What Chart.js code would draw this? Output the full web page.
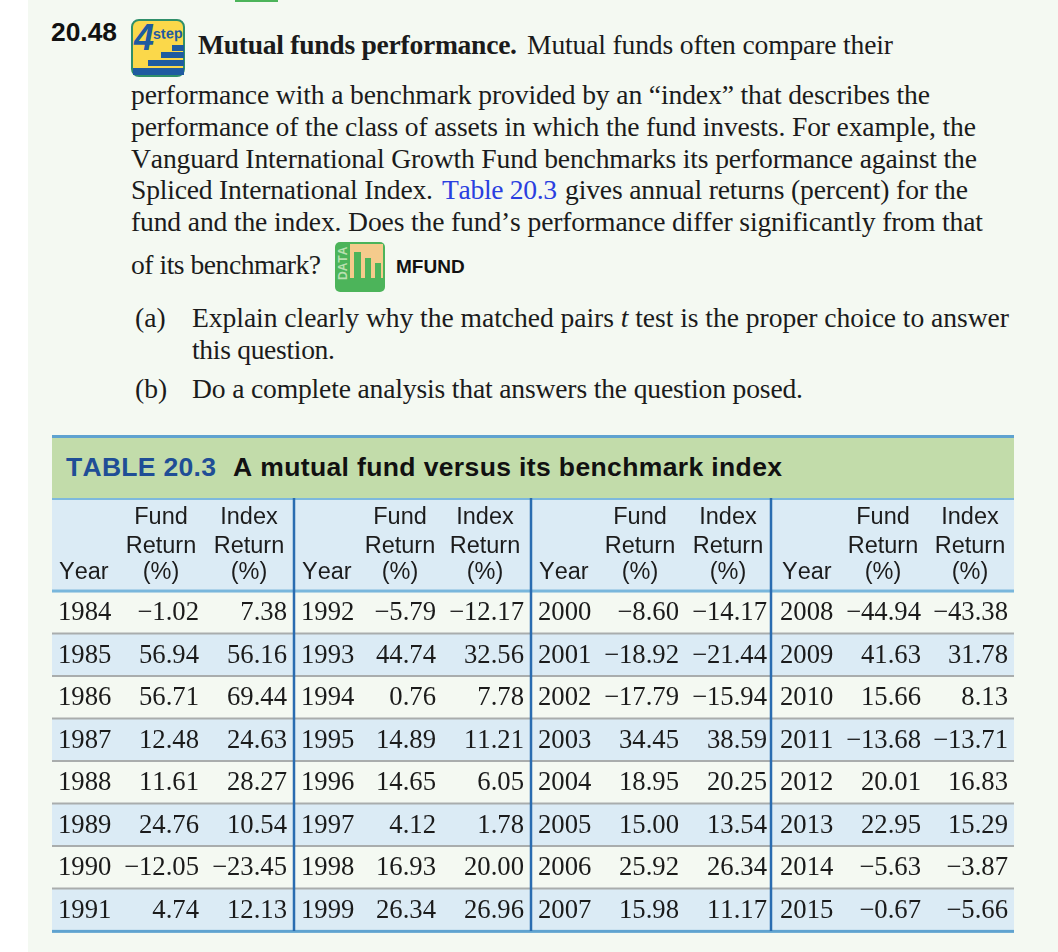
<!DOCTYPE html>
<html>
<head>
<meta charset="utf-8">
<title>Table 20.3</title>
<script src="https://cdn.jsdelivr.net/npm/chart.js@4"></script>
<style>
    html, body { margin: 0; padding: 0; background: #fff; }
    #page { position: relative; width: 1058px; height: 952px; overflow: hidden; background: #fff; }
    #sheet { position: absolute; left: 28px; top: 0; width: 1030px; height: 952px; background: #f4f9f2; }
    #text-layer { position: absolute; left: 0; top: 0; font-kerning: none; }
    #text-layer .serif { font-family: "Liberation Serif", serif; font-size: 27.6px; fill: #1b1b1b; }
    #text-layer .sans { font-family: "Liberation Sans", sans-serif; font-weight: bold; fill: #111; }
    #table-chart { position: absolute; left: 52px; top: 498px; }
</style>
</head>
<body>
<div id="page">
    <div id="sheet"></div>
    <svg id="text-layer" width="1058" height="952">
        <rect x="235" y="0" width="43" height="2" fill="#4cb45a"/>

        <text class="sans" x="51" y="41" font-size="26.4">20.48</text>
        <!-- 4step icon -->
        <rect x="132" y="20" width="52" height="56" rx="7" fill="#fbd84a" stroke="#2f8f6a" stroke-width="2"/>
        <text x="134" y="50" font-family="Liberation Sans" font-weight="bold" font-style="italic" font-size="36" fill="#1f5ba0">4</text>
        <text x="153" y="39" font-family="Liberation Sans" font-weight="bold" font-size="14.5" fill="#1f5ba0" transform="rotate(-2 153 39)">step</text>
        <rect x="172" y="45" width="12" height="6" fill="#1f5ba0"/>
        <rect x="161" y="52" width="23" height="6" fill="#1f5ba0"/>
        <rect x="148" y="60" width="36" height="6" fill="#1f5ba0"/>
        <rect x="133" y="68" width="51" height="7" fill="#1f5ba0"/>

        <text class="serif" x="198" y="54" font-weight="bold" textLength="319">Mutual funds performance.</text>
        <text class="serif" x="527" y="54" textLength="366">Mutual funds often compare their</text>
        <text class="serif" x="131" y="104" textLength="799">performance with a benchmark provided by an “index” that describes the</text>
        <text class="serif" x="131" y="136" textLength="845">performance of the class of assets in which the fund invests. For example, the</text>
        <text class="serif" x="131" y="168" textLength="846">Vanguard International Growth Fund benchmarks its performance against the</text>
        <text class="serif" x="131" y="199" textLength="302">Spliced International Index.</text>
        <text class="serif" x="442" y="199" textLength="115" style="fill:#2a3fe0">Table 20.3</text>
        <text class="serif" x="565" y="199" textLength="403">gives annual returns (percent) for the</text>
        <text class="serif" x="131" y="231" textLength="852">fund and the index. Does the fund’s performance differ significantly from that</text>
        <text class="serif" x="131" y="274" textLength="190">of its benchmark?</text>
        <!-- data icon -->
        <rect x="335" y="242" width="50" height="50" rx="5" fill="#4cb45a"/>
        <rect x="350" y="244" width="33" height="34" fill="#f5cb8c"/>
        <rect x="354" y="252" width="7" height="27" fill="#4cb45a"/>
        <rect x="365" y="258" width="6" height="21" fill="#4cb45a"/>
        <rect x="375" y="263" width="6" height="16" fill="#4cb45a"/>
        <text transform="translate(347,280) rotate(-90)" font-family="Liberation Sans" font-weight="bold" font-size="12" fill="#b9e0b0">DATA</text>
        <text class="sans" x="396" y="273" font-size="19">MFUND</text>

        <text class="serif" x="135" y="327">(a)</text>
        <text class="serif" x="192" y="327" textLength="817">Explain clearly why the matched pairs <tspan font-style="italic">t</tspan> test is the proper choice to answer</text>
        <text class="serif" x="192" y="359" textLength="143">this question.</text>
        <text class="serif" x="135" y="398">(b)</text>
        <text class="serif" x="192" y="398" textLength="611">Do a complete analysis that answers the question posed.</text>

        <!-- table title band -->
        <rect x="52" y="436" width="962" height="62" fill="#c2dcaa"/>
        <rect x="52" y="435" width="962" height="3" fill="#5fa3d0"/>
        <text class="sans" x="66" y="476" font-size="26.5" textLength="150" style="fill:#1f4e96">TABLE 20.3</text>
        <text class="sans" x="233" y="476" font-size="26.5" textLength="549">A mutual fund versus its benchmark index</text>
    </svg>
    <canvas id="table-chart" width="962" height="435"></canvas>
</div>

<script>
    // Table values, four blocks of eight years each
    const years = [
        1984, 1985, 1986, 1987, 1988, 1989, 1990, 1991,
        1992, 1993, 1994, 1995, 1996, 1997, 1998, 1999,
        2000, 2001, 2002, 2003, 2004, 2005, 2006, 2007,
        2008, 2009, 2010, 2011, 2012, 2013, 2014, 2015
    ];
    const fundReturns = [
        -1.02, 56.94, 56.71, 12.48, 11.61, 24.76, -12.05, 4.74,
        -5.79, 44.74, 0.76, 14.89, 14.65, 4.12, 16.93, 26.34,
        -8.60, -18.92, -17.79, 34.45, 18.95, 15.00, 25.92, 15.98,
        -44.94, 41.63, 15.66, -13.68, 20.01, 22.95, -5.63, -0.67
    ];
    const indexReturns = [
        7.38, 56.16, 69.44, 24.63, 28.27, 10.54, -23.45, 12.13,
        -12.17, 32.56, 7.78, 11.21, 6.05, 1.78, 20.00, 26.96,
        -14.17, -21.44, -15.94, 38.59, 20.25, 13.54, 26.34, 11.17,
        -43.38, 31.78, 8.13, -13.71, 16.83, 15.29, -3.87, -5.66
    ];
    const fundHeader = ['Fund', 'Return', '(%)'];
    const indexHeader = ['Index', 'Return', '(%)'];
    const yearHeader = 'Year';

    // Column layout, in x scale units (same as page pixels)
    const yearLeft = [58, 301, 538, 780];
    const fundRight = [199, 436, 679, 921];
    const indexRight = [287, 524, 767, 1008];
    const yearHeadLeft = [59, 302, 539, 782];
    const fundCenter = [161, 400, 640, 883];
    const indexCenter = [249, 485, 728, 970];
    const blockLines = [294, 531, 771];
    const ROWS = 8;
    const BASELINE = 0.69; // text baseline inside a row
    const headerBaselines = [-1.576, -0.894, -0.282];

    const formatValue = v => (v < 0 ? '\u2212' : '') + Math.abs(v).toFixed(2);
    const block = i => Math.floor(i / ROWS);
    const row = i => i % ROWS;

    function cellPoints(columns) {
        return years.map((_, i) => ({ x: columns[block(i)], y: row(i) + BASELINE }));
    }

    const tablePlugin = {
        id: 'tablePlugin',
        beforeDatasetsDraw(chart) {
            const { ctx, scales: { x, y } } = chart;
            const left = x.getPixelForValue(52);
            const right = x.getPixelForValue(1014);
            ctx.save();

            // header band
            ctx.fillStyle = '#dbebf5';
            ctx.fillRect(left, y.getPixelForValue(-2.19), right - left, y.getPixelForValue(0) - y.getPixelForValue(-2.19));

            // every second row is shaded
            for (let r = 1; r < ROWS; r += 2) {
                ctx.fillRect(left, y.getPixelForValue(r), right - left, y.getPixelForValue(r + 1) - y.getPixelForValue(r));
            }

            // row rules
            ctx.strokeStyle = '#a9adad';
            ctx.lineWidth = 2;
            for (let r = 1; r < ROWS; r++) {
                ctx.beginPath();
                ctx.moveTo(left, y.getPixelForValue(r));
                ctx.lineTo(right, y.getPixelForValue(r));
                ctx.stroke();
            }

            // blue rules
            ctx.fillStyle = '#7db8dd';
            ctx.fillRect(left, y.getPixelForValue(-2.19), right - left, 2);
            ctx.fillStyle = '#79b7dc';
            ctx.fillRect(left, y.getPixelForValue(0) - 1.5, right - left, 3);
            ctx.fillStyle = '#5fa3d0';
            ctx.fillRect(left, y.getPixelForValue(ROWS) - 1, right - left, 3);

            ctx.strokeStyle = '#2a6cb0';
            ctx.lineWidth = 2.5;
            blockLines.forEach(v => {
                ctx.beginPath();
                ctx.moveTo(x.getPixelForValue(v), y.getPixelForValue(-2.19));
                ctx.lineTo(x.getPixelForValue(v), y.getPixelForValue(ROWS));
                ctx.stroke();
            });
            ctx.restore();
        },
        afterDatasetsDraw(chart) {
            const { ctx, scales: { x, y } } = chart;
            ctx.save();
            ctx.fontKerning = 'none';

            // column headers
            ctx.font = '23.5px "Liberation Sans", sans-serif';
            ctx.fillStyle = '#1c1c1c';
            ctx.textBaseline = 'alphabetic';
            for (let b = 0; b < yearLeft.length; b++) {
                ctx.textAlign = 'left';
                ctx.fillText(yearHeader, x.getPixelForValue(yearHeadLeft[b]), y.getPixelForValue(headerBaselines[2]));
                ctx.textAlign = 'center';
                fundHeader.forEach((t, l) => ctx.fillText(t, x.getPixelForValue(fundCenter[b]), y.getPixelForValue(headerBaselines[l])));
                indexHeader.forEach((t, l) => ctx.fillText(t, x.getPixelForValue(indexCenter[b]), y.getPixelForValue(headerBaselines[l])));
            }

            // cell values sit on the dataset points
            ctx.font = '26.7px "Liberation Serif", serif';
            ctx.fillStyle = '#1b1b1b';
            chart.data.datasets.forEach((ds, d) => {
                ctx.textAlign = ds.cellAlign;
                chart.getDatasetMeta(d).data.forEach((pt, i) => {
                    ctx.fillText(ds.cellText[i], pt.x, pt.y);
                });
            });
            ctx.restore();
        }
    };

    new Chart(document.getElementById('table-chart'), {
        type: 'scatter',
        data: {
            datasets: [
                { label: 'Year', data: cellPoints(yearLeft), cellText: years.map(String), cellAlign: 'left', pointRadius: 0 },
                { label: 'Fund Return (%)', data: cellPoints(fundRight), cellText: fundReturns.map(formatValue), cellAlign: 'right', pointRadius: 0 },
                { label: 'Index Return (%)', data: cellPoints(indexRight), cellText: indexReturns.map(formatValue), cellAlign: 'right', pointRadius: 0 }
            ]
        },
        options: {
            responsive: false,
            devicePixelRatio: 1,
            animation: false,
            layout: { padding: 0 },
            plugins: { legend: { display: false }, tooltip: { enabled: false } },
            scales: {
                x: { type: 'linear', display: false, min: 52, max: 1014 },
                y: { type: 'linear', display: false, min: -2.19, max: 8.05, reverse: true }
            }
        },
        plugins: [tablePlugin]
    });
</script>
</body>
</html>
